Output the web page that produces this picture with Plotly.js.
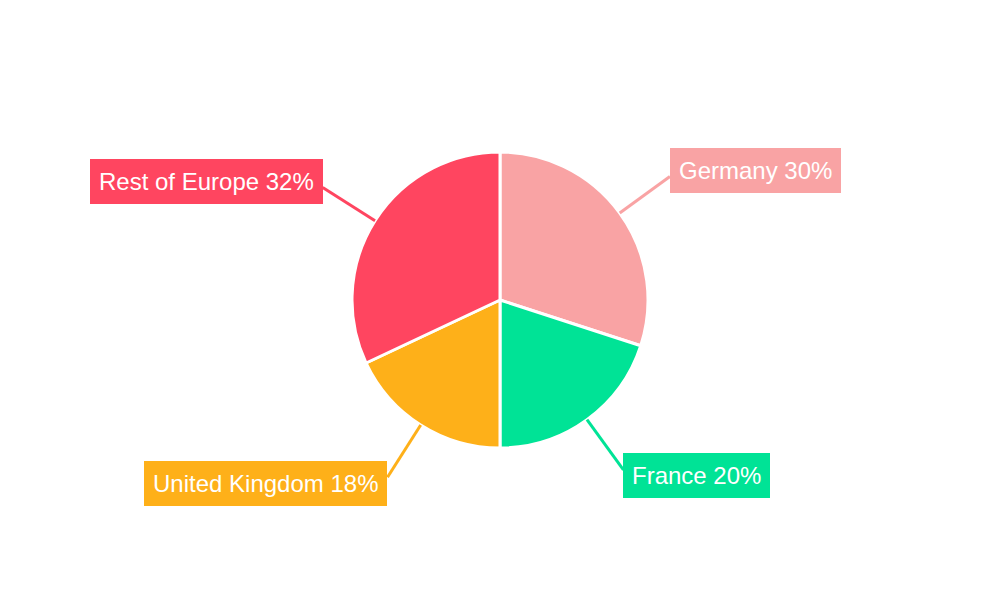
<!DOCTYPE html>
<html>
<head>
<meta charset="utf-8">
<script src="https://cdn.plot.ly/plotly-3.0.1.min.js"></script>
<style>
  html, body { margin: 0; padding: 0; background: #fff; }
  #chart { width: 1000px; height: 600px; }
</style>
</head>
<body>
<div id="chart"></div>
<script>
// data
const regions = ['Germany', 'France', 'United Kingdom', 'Rest of Europe'];
const shares  = [30, 20, 18, 32];
const colors  = ['#F9A3A4', '#00E396', '#FEB019', '#FF4560'];

// pie geometry (pixels)
const W = 1000, H = 600;
const CX = 500, CY = 300, R = 148, R_OUT = 210;

const total = shares.reduce((a, b) => a + b, 0);

const shapes = [];
const annotations = [];
let acc = 0;
shares.forEach((v, i) => {
  const mid = (acc + v / 2) / total * 2 * Math.PI;  // clockwise from 12 o'clock
  acc += v;
  const sx = CX + R * Math.sin(mid),     sy = CY - R * Math.cos(mid);
  const ex = CX + R_OUT * Math.sin(mid), ey = CY - R_OUT * Math.cos(mid);
  const right = Math.sin(mid) >= 0;
  const down  = Math.cos(mid) < 0;

  shapes.push({
    type: 'line', xref: 'paper', yref: 'paper',
    x0: sx / W, y0: 1 - sy / H, x1: ex / W, y1: 1 - ey / H,
    line: { color: colors[i], width: 3 },
  });

  annotations.push({
    xref: 'paper', yref: 'paper',
    x: ex / W, y: 1 - ey / H,
    xanchor: right ? 'left' : 'right', yanchor: 'middle',
    yshift: down ? -6 : 6,
    text: `${regions[i]} ${Math.round(v / total * 100)}%`,
    showarrow: false,
    bgcolor: colors[i], borderpad: 9, borderwidth: 0,
    font: { family: '"Liberation Sans", Arial, sans-serif', size: 24, color: '#ffffff' },
  });
});

const traces = [{
  type: 'pie',
  labels: regions,
  values: shares,
  sort: false,
  direction: 'clockwise',
  rotation: 0,
  textinfo: 'none',
  hoverinfo: 'label+percent',
  marker: { colors: colors, line: { color: '#ffffff', width: 3 } },
  domain: { x: [(CX - R) / W, (CX + R) / W], y: [1 - (CY + R) / H, 1 - (CY - R) / H] },
}];

const layout = {
  width: W, height: H,
  margin: { t: 0, r: 0, b: 0, l: 0 },
  paper_bgcolor: '#ffffff',
  showlegend: false,
  shapes: shapes,
  annotations: annotations,
};

Plotly.newPlot('chart', traces, layout, { displayModeBar: false });
</script>
</body>
</html>
